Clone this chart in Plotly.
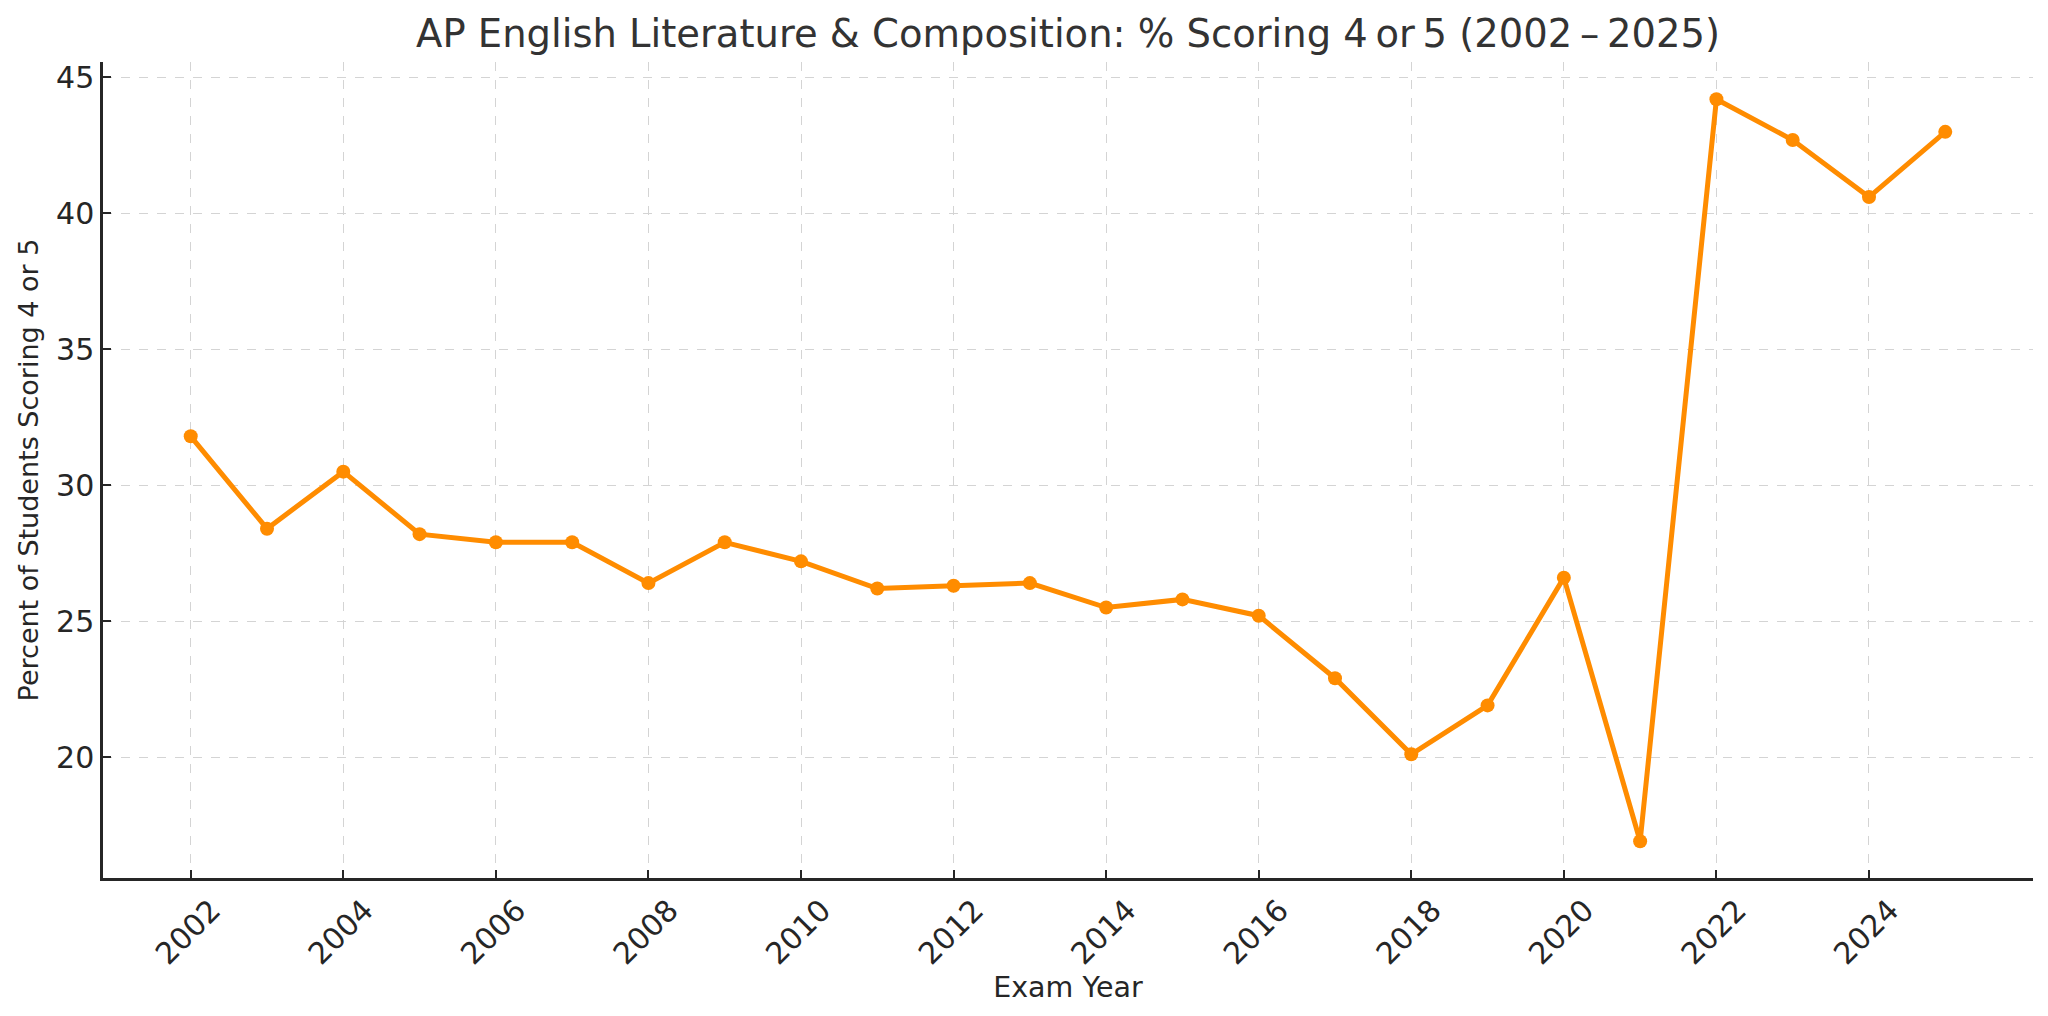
# AP English Literature - percent scoring 4 or 5
import plotly.graph_objs as go

years = list(range(2002, 2026))
pct_4_or_5 = [31.8, 28.4, 30.5, 28.2, 27.9, 27.9, 26.4, 27.9, 27.2, 26.2,
              26.3, 26.4, 25.5, 25.8, 25.2, 22.9, 20.1, 21.9, 26.6, 16.9,
              44.2, 42.7, 40.6, 43.0]
x_ticks = list(range(2002, 2026, 2))
y_ticks = [20, 25, 30, 35, 40, 45]

font = 'DejaVu Sans'
ink = '#262626'

line = go.Scatter(
    x=years,
    y=pct_4_or_5,
    mode='lines+markers',
    line=dict(color='#ff8c00', width=5),
    marker=dict(color='#ff8c00', size=14),
)

layout = go.Layout(
    width=2048, height=1016,
    paper_bgcolor='white',
    plot_bgcolor='white',
    showlegend=False,
    margin=dict(l=95, r=23, t=54, b=146),
    font=dict(family=font, color=ink),
    title=dict(
        # thin spaces, as in the original title
        text='AP English Literature & Composition: % Scoring 4\u2009or\u20095 (2002\u2009\u2013\u20092025)',
        x=1060 / 2048, xanchor='center',
        y=1 - 26 / 1016, yanchor='middle',
        font=dict(size=38.5, color='#333333', family=font),
    ),
    xaxis=dict(
        title=dict(text='Exam Year', font=dict(size=28.5), standoff=2),
        range=[2000.85, 2026.15],
        tickvals=x_ticks,
        tickangle=-45,
        tickfont=dict(size=30),
        ticklabelshift=21,
        ticks='inside', ticklen=8, tickwidth=2, tickcolor=ink,
        showline=True, linecolor=ink, linewidth=2.5,
        showgrid=True, gridcolor='#d4d4d4', gridwidth=1.3, griddash='dash',
        zeroline=False,
    ),
    yaxis=dict(
        title=dict(text='Percent of Students Scoring 4 or 5', font=dict(size=27), standoff=10),
        range=[15.55, 45.57],
        tickvals=y_ticks,
        tickfont=dict(size=30),
        ticks='inside', ticklen=8, tickwidth=2, tickcolor=ink,
        showline=True, linecolor=ink, linewidth=2.5,
        showgrid=True, gridcolor='#d4d4d4', gridwidth=1.3, griddash='dash',
        zeroline=False,
    ),
)

fig = go.Figure(data=[line], layout=layout)
fig.write_html('out.html')
